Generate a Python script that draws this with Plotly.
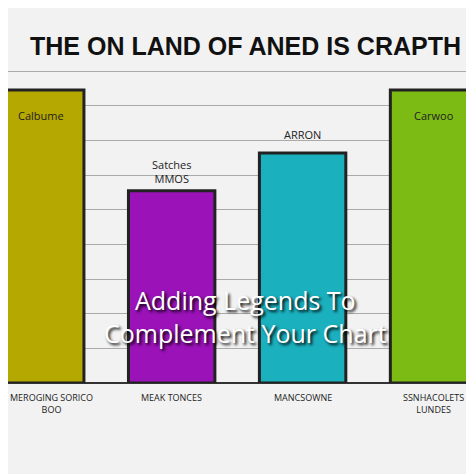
import plotly.graph_objects as go

categories = ["A", "B", "C", "D"]
values = [93, 61, 73, 93]
colors = ["#b5a800", "#9a12b8", "#1bb0be", "#7cbb13"]
top_labels = ["Calbume", "Satches<br>MMOS", "ARRON", "Carwoo"]
bottom_labels = ["MEROGING SORICO<br>BOO", "MEAK TONCES", "MANCSOWNE", "SSNHACOLETS<br>LUNDES"]

xs = list(range(len(categories)))
fig = go.Figure()
fig.add_bar(x=xs, y=values, marker=dict(color=colors, line=dict(color="#222", width=3)),
            width=0.66)
for i, (v, t) in enumerate(zip(values, top_labels)):
    fig.add_annotation(x=i, y=v - 8 if i in (0, 3) else v + 6, text=t, showarrow=False,
                       font=dict(size=11, color="#222"))
    fig.add_annotation(x=max(i, 0.08), yref="paper", y=-0.02, text=bottom_labels[i],
                       showarrow=False, yanchor="top", font=dict(size=9, color="#222"))
fig.add_annotation(x=0.5, y=1.12, xref="paper", yref="paper", showarrow=False,
                   text="<b>THE ON LAND OF ANED IS CRAPTH</b>",
                   font=dict(size=25, color="#111", family="Liberation Sans"))
fig.add_annotation(x=0.5, y=0.1, xref="paper", yref="paper", showarrow=False,
                   text="Adding Legends To<br>Complement Your Chart",
                   font=dict(size=25, color="white", family="Open Sans",
                             shadow="2px 2px 3px black"))
fig.update_layout(width=474, height=474, margin=dict(l=0, r=0, t=60, b=99),
                  paper_bgcolor="#f2f2f2", plot_bgcolor="#f2f2f2", showlegend=False,
                  xaxis=dict(range=[-0.25, 3.37], visible=False),
                  yaxis=dict(range=[0, 100], showticklabels=False, gridcolor="#aaa",
                             dtick=11, zeroline=True, zerolinecolor="#333", zerolinewidth=2))
fig.write_html("out.html")
